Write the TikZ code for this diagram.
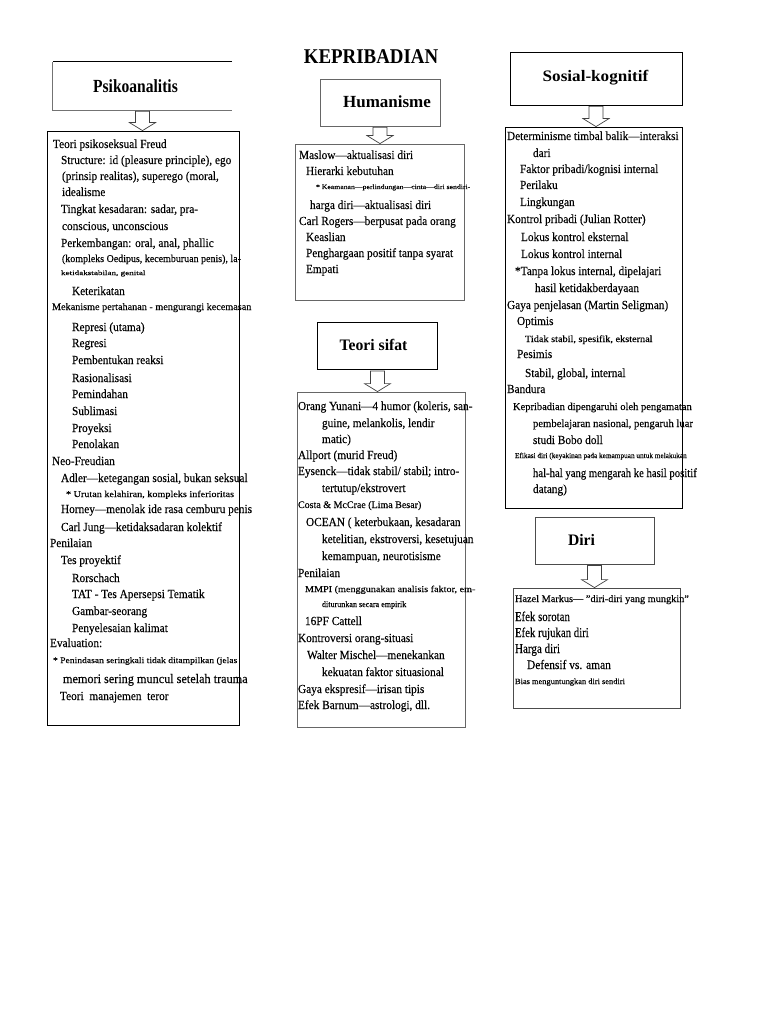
\documentclass[tikz,border=0pt]{standalone}
\usepackage{fontspec}
\usepackage{graphicx}
\setmainfont{Liberation Serif}[UprightFeatures={FakeBold=0.15}]
\usetikzlibrary{calc}
\newcommand\T[3]{\scalebox{#2}[1]{\fontsize{#1}{#1}\selectfont #3}}
\newcommand\B[3]{\scalebox{#2}[1]{\fontsize{#1}{#1}\selectfont\bfseries #3}}
\newcommand\N[1]{\T{12.3}{0.92}{#1}}
\newcommand\blockarr[2]{%
  \draw[blockarrow] let \p1=(#1.south), \p2=(#2.north) in
    (\x1-7pt,\y1-1pt) -- (\x1+7pt,\y1-1pt) -- (\x1+7pt,\y2+8pt) -- (\x1+13pt,\y2+8pt)
    -- (\x1,\y2) -- (\x1-13pt,\y2+8pt) -- (\x1-7pt,\y2+8pt) -- cycle;}
\begin{document}
\begin{tikzpicture}[x=1pt,y=-1pt,
  ln/.style={anchor=base west, inner sep=0pt, outer sep=0pt, text=black},
  hdrbox/.style={draw, line width=0.8pt, inner sep=0pt},
  hdrtext/.style={inner sep=0pt, text=black},
  cbox/.style={draw, line width=0.8pt, inner sep=0pt},
  blockarrow/.style={draw=black!75, fill=white, line width=0.7pt}]
\fill[white] (0,0) rectangle (768,1024);
\useasboundingbox (0,0) rectangle (768,1024);

% title
\node[hdrtext] (title) at (371,57) {\B{21}{0.9}{KEPRIBADIAN}};

% header boxes
\node[inner sep=0pt, minimum width=179pt, minimum height=48pt] (psi) at (142.5,86) {};
\draw[black, line width=1pt] (psi.north east) -- (psi.north west);
\draw[black!55, line width=0.8pt] (psi.north west) -- (psi.south west) -- (psi.south east);
\node[hdrtext] (psiT) at (135.5,86) {\B{18.5}{0.84}{Psikoanalitis}};

\node[hdrbox, draw=black!60, minimum width=120pt, minimum height=47pt] (hum) at (380,102.5) {};
\node[hdrtext] (humT) at (387,102) {\B{17}{1.0}{Humanisme}};

\node[hdrbox, minimum width=172pt, minimum height=53pt] (sos) at (596,78.5) {};
\node[hdrtext] (sosT) at (595.5,78) {\B{16}{1.07}{Sosial-kognitif}};

\node[hdrbox, minimum width=120pt, minimum height=47pt] (sif) at (377.5,346) {};
\node[hdrtext] (sifT) at (373.5,345) {\B{16}{0.98}{Teori sifat}};

\node[hdrbox, draw=black!70, minimum width=119pt, minimum height=47pt] (diri) at (594.5,540.5) {};
\node[hdrtext] (diriT) at (581.5,540) {\B{16}{0.98}{Diri}};

% content boxes
\node[cbox, minimum width=192pt, minimum height=594pt] (cL) at (143,428) {};
\node[cbox, draw=black!60, minimum width=169pt, minimum height=156pt] (cH) at (379.5,222) {};
\node[cbox, draw=black!60, minimum width=168pt, minimum height=335pt] (cS) at (381,559.5) {};
\node[cbox, minimum width=177pt, minimum height=381pt] (cK) at (593.5,317.5) {};
\node[cbox, draw=black!70, minimum width=167pt, minimum height=120pt] (cD) at (596.5,648) {};

% block arrows
\blockarr{psi}{cL}
\blockarr{hum}{cH}
\blockarr{sos}{cK}
\blockarr{sif}{cS}
\blockarr{diri}{cD}

% left column
\node[ln] (a1) at (53,148) {\N{Teori psikoseksual Freud}};
\node[ln] (a2) at (61,164) {\N{Structure: id (pleasure principle), ego}};
\node[ln] (a3) at (62,180) {\N{(prinsip realitas), superego (moral,}};
\node[ln] (a4) at (62,196) {\N{idealisme}};
\node[ln] (a5) at (61,213) {\N{Tingkat kesadaran: sadar, pra-}};
\node[ln] (a6) at (62,230) {\N{conscious, unconscious}};
\node[ln] (a7) at (61,247) {\N{Perkembangan: oral, anal, phallic}};
\node[ln] (a8) at (62,262) {\T{10.5}{0.95}{(kompleks Oedipus, kecemburuan penis), la-}};
\node[ln] (a9) at (61,275) {\T{6.5}{1.4}{ketidakstabilan, genital}};
\node[ln] (a10) at (72,295) {\N{Keterikatan}};
\node[ln] (a11) at (52,310) {\T{10}{1.02}{Mekanisme pertahanan - mengurangi kecemasan}};
\node[ln] (a12) at (72,331) {\N{Represi (utama)}};
\node[ln] (a13) at (72,347) {\N{Regresi}};
\node[ln] (a14) at (72,364) {\N{Pembentukan reaksi}};
\node[ln] (a15) at (72,382) {\N{Rasionalisasi}};
\node[ln] (a16) at (72,398) {\N{Pemindahan}};
\node[ln] (a17) at (72,415) {\N{Sublimasi}};
\node[ln] (a18) at (72,432) {\N{Proyeksi}};
\node[ln] (a19) at (72,448) {\N{Penolakan}};
\node[ln] (a20) at (52,465) {\N{Neo-Freudian}};
\node[ln] (a21) at (61,482) {\N{Adler—ketegangan sosial, bukan seksual}};
\node[ln] (a22) at (66,497) {\T{9}{1.13}{* Urutan kelahiran, kompleks inferioritas}};
\node[ln] (a23) at (61,513) {\N{Horney—menolak ide rasa cemburu penis}};
\node[ln] (a24) at (61,531) {\N{Carl Jung—ketidaksadaran kolektif}};
\node[ln] (a25) at (50,547) {\N{Penilaian}};
\node[ln] (a26) at (61,564) {\N{Tes proyektif}};
\node[ln] (a27) at (72,582) {\N{Rorschach}};
\node[ln] (a28) at (72,598) {\N{TAT - Tes Apersepsi Tematik}};
\node[ln] (a29) at (72,615) {\N{Gambar-seorang}};
\node[ln] (a30) at (72,632) {\N{Penyelesaian kalimat}};
\node[ln] (a31) at (50,647) {\N{Evaluation:}};
\node[ln] (a32) at (53,663) {\T{8.5}{1.13}{* Penindasan seringkali tidak ditampilkan (jelas}};
\node[ln] (a33) at (63,683) {\T{13}{0.94}{memori sering muncul setelah trauma}};
\node[ln] (a34) at (60,700) {\N{Teori\ \ manajemen\ \ teror}};

% middle top
\node[ln] (b1) at (299,159) {\N{Maslow—aktualisasi diri}};
\node[ln] (b2) at (306,175) {\N{Hierarki kebutuhan}};
\node[ln] (b3) at (316,189) {\T{6.5}{1.19}{* Keamanan—perlindungan—cinta—diri sendiri-}};
\node[ln] (b4) at (310,209) {\N{harga diri—aktualisasi diri}};
\node[ln] (b5) at (299,225) {\N{Carl Rogers—berpusat pada orang}};
\node[ln] (b6) at (306,241) {\N{Keaslian}};
\node[ln] (b7) at (306,257) {\N{Penghargaan positif tanpa syarat}};
\node[ln] (b8) at (306,273) {\N{Empati}};

% middle bottom
\node[ln] (s1) at (298,410) {\N{Orang Yunani—4 humor (koleris, san-}};
\node[ln] (s2) at (322,427) {\N{guine, melankolis, lendir}};
\node[ln] (s3) at (322,443) {\N{matic)}};
\node[ln] (s4) at (298,459) {\N{Allport (murid Freud)}};
\node[ln] (s5) at (298,475) {\N{Eysenck—tidak stabil/ stabil; intro-}};
\node[ln] (s6) at (322,492) {\N{tertutup/ekstrovert}};
\node[ln] (s7) at (298,508) {\T{10}{1.0}{Costa \& McCrae (Lima Besar)}};
\node[ln] (s8) at (306,526) {\N{OCEAN ( keterbukaan, kesadaran}};
\node[ln] (s9) at (322,543) {\N{ketelitian, ekstroversi, kesetujuan}};
\node[ln] (s10) at (322,560) {\N{kemampuan, neurotisisme}};
\node[ln] (s11) at (298,577) {\N{Penilaian}};
\node[ln] (s12) at (305,592) {\T{9}{1.13}{MMPI (menggunakan analisis faktor, em-}};
\node[ln] (s13) at (322,607) {\T{8.5}{0.95}{diturunkan secara empirik}};
\node[ln] (s14) at (305,625) {\N{16PF Cattell}};
\node[ln] (s15) at (298,642) {\N{Kontroversi orang-situasi}};
\node[ln] (s16) at (307,659) {\N{Walter Mischel—menekankan}};
\node[ln] (s17) at (322,676) {\N{kekuatan faktor situasional}};
\node[ln] (s18) at (298,693) {\N{Gaya ekspresif—irisan tipis}};
\node[ln] (s19) at (298,709) {\N{Efek Barnum—astrologi, dll.}};

% right top
\node[ln] (k1) at (507,140) {\N{Determinisme timbal balik—interaksi}};
\node[ln] (k2) at (533,157) {\N{dari}};
\node[ln] (k3) at (520,173) {\N{Faktor pribadi/kognisi internal}};
\node[ln] (k4) at (520,189) {\N{Perilaku}};
\node[ln] (k5) at (520,206) {\N{Lingkungan}};
\node[ln] (k6) at (507,223) {\N{Kontrol pribadi (Julian Rotter)}};
\node[ln] (k7) at (521,241) {\N{Lokus kontrol eksternal}};
\node[ln] (k8) at (521,258) {\N{Lokus kontrol internal}};
\node[ln] (k9) at (515,275) {\N{*Tanpa lokus internal, dipelajari}};
\node[ln] (k10) at (535,292) {\N{hasil ketidakberdayaan}};
\node[ln] (k11) at (507,309) {\N{Gaya penjelasan (Martin Seligman)}};
\node[ln] (k12) at (517,325) {\N{Optimis}};
\node[ln] (k13) at (525,342) {\T{9.5}{1.08}{Tidak stabil, spesifik, eksternal}};
\node[ln] (k14) at (517,358) {\N{Pesimis}};
\node[ln] (k15) at (525,377) {\N{Stabil, global, internal}};
\node[ln] (k16) at (507,393) {\N{Bandura}};
\node[ln] (k17) at (513,410) {\T{10.5}{1.0}{Kepribadian dipengaruhi oleh pengamatan}};
\node[ln] (k18) at (533,427) {\T{11}{0.97}{pembelajaran nasional, pengaruh luar}};
\node[ln] (k19) at (533,444) {\N{studi Bobo doll}};
\node[ln] (k20) at (515,458) {\T{7.5}{0.97}{Efikasi diri (keyakinan pada kemampuan untuk melakukan}};
\node[ln] (k21) at (533,477) {\T{12.3}{0.87}{hal-hal yang mengarah ke hasil positif}};
\node[ln] (k22) at (533,493) {\N{datang)}};

% right bottom
\node[ln] (d1) at (515,602) {\T{10}{1.03}{Hazel Markus— \char34 diri-diri yang mungkin\char34}};
\node[ln] (d2) at (515,621) {\T{13.5}{0.8}{Efek sorotan}};
\node[ln] (d3) at (515,637) {\T{13.5}{0.8}{Efek rujukan diri}};
\node[ln] (d4) at (515,653) {\T{13.5}{0.82}{Harga diri}};
\node[ln] (d5) at (527,669) {\T{13}{0.88}{Defensif vs. aman}};
\node[ln] (d6) at (515,684) {\T{8}{1.05}{Bias menguntungkan diri sendiri}};
\end{tikzpicture}
\end{document}
